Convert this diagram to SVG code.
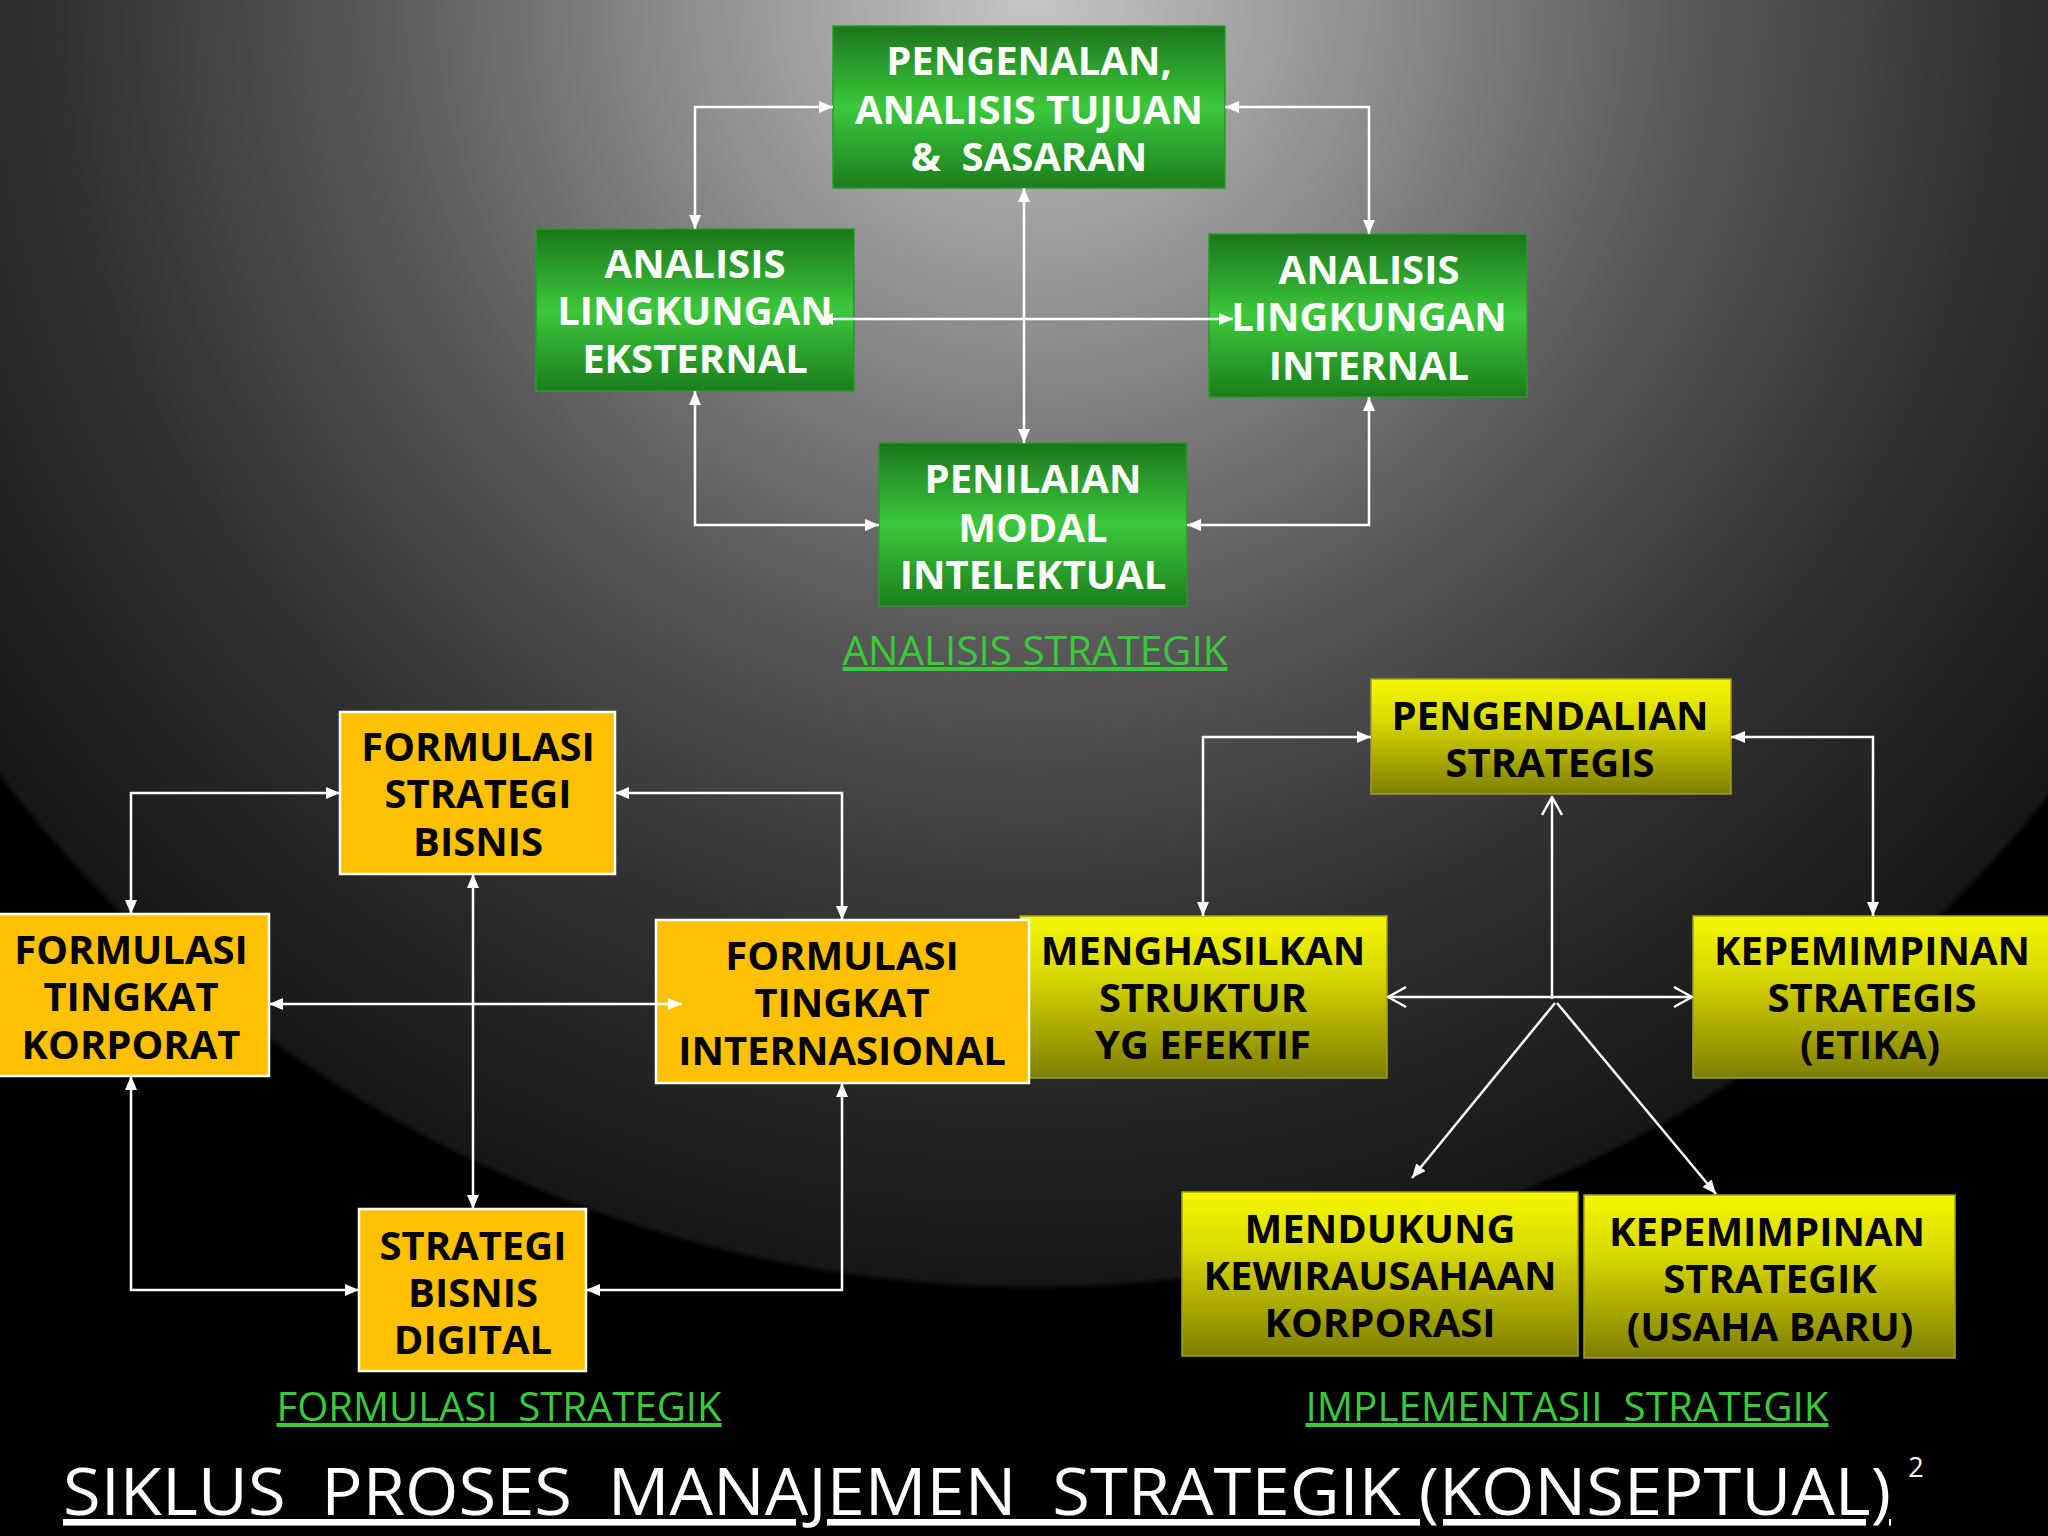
<svg xmlns="http://www.w3.org/2000/svg" width="2048" height="1536" viewBox="0 0 2048 1536">
<defs>
<radialGradient id="bg" gradientUnits="userSpaceOnUse" cx="1032" cy="-10" r="1300">
<stop offset="0" stop-color="#c6c6c6"/>
<stop offset="0.2" stop-color="#9c9c9c"/>
<stop offset="0.5" stop-color="#5a5a5a"/>
<stop offset="0.75" stop-color="#313131"/>
<stop offset="0.995" stop-color="#171717"/>
<stop offset="1" stop-color="#000"/>
</radialGradient>
<linearGradient id="gg" x1="0" y1="0" x2="0" y2="1">
<stop offset="0" stop-color="#1b761b"/>
<stop offset="0.5" stop-color="#3cc83c"/>
<stop offset="1" stop-color="#1b7e1b"/>
</linearGradient>
<linearGradient id="yg" x1="0" y1="0" x2="0" y2="1">
<stop offset="0" stop-color="#f6f600"/>
<stop offset="0.35" stop-color="#dada00"/>
<stop offset="1" stop-color="#7e7e00"/>
</linearGradient>
<marker id="af" viewBox="0 0 14 12" refX="14" refY="6" markerWidth="14" markerHeight="12" orient="auto-start-reverse" markerUnits="userSpaceOnUse"><path d="M0,0 L14,6 L0,12 z" fill="#fff"/></marker>
<marker id="ao" viewBox="0 0 20 24" refX="19" refY="12" markerWidth="20" markerHeight="24" orient="auto-start-reverse" markerUnits="userSpaceOnUse"><path d="M1,2 L19,12 L1,22" fill="none" stroke="#fff" stroke-width="2.5"/></marker>
</defs>
<style>
text{font-family:"Open Sans","Noto Sans","DejaVu Sans",sans-serif;white-space:pre}
.bt{font-size:40px;font-weight:bold;text-anchor:middle}
.w{fill:#fff}
.k{fill:#000}
.g{fill:url(#gg);stroke:#2a9a2a;stroke-width:1.5}
.o{fill:#ffc000;stroke:#fff;stroke-width:2.5}
.y{fill:url(#yg);stroke:#a0a020;stroke-width:1.5}
.c{fill:none;stroke:#fff;stroke-width:2.5}
.lab{font-size:40px;fill:#3cc83c;text-decoration:underline;text-anchor:middle}
</style>
<rect x="0" y="0" width="2048" height="1536" fill="#000"/>
<rect x="0" y="0" width="2048" height="1536" fill="url(#bg)"/>

<g id="n-pengenalan">
<rect class="g" x="833" y="26" width="392" height="162"/>
<text class="bt w" x="1029" y="75">PENGENALAN,</text>
<text class="bt w" x="1029" y="124">ANALISIS TUJUAN</text>
<text class="bt w" x="1029" y="171">&amp;  SASARAN</text>
</g>
<g id="n-eksternal">
<rect class="g" x="536" y="229" width="318" height="162"/>
<text class="bt w" x="695" y="278">ANALISIS</text>
<text class="bt w" x="695" y="325">LINGKUNGAN</text>
<text class="bt w" x="695" y="373">EKSTERNAL</text>
</g>
<g id="n-internal">
<rect class="g" x="1209" y="234" width="318" height="163"/>
<text class="bt w" x="1369" y="284">ANALISIS</text>
<text class="bt w" x="1369" y="331">LINGKUNGAN</text>
<text class="bt w" x="1369" y="380">INTERNAL</text>
</g>
<g id="n-penilaian">
<rect class="g" x="879" y="443" width="308" height="163"/>
<text class="bt w" x="1033" y="493">PENILAIAN</text>
<text class="bt w" x="1033" y="542">MODAL</text>
<text class="bt w" x="1033" y="589">INTELEKTUAL</text>
</g>

<g id="n-bisnis">
<rect class="o" x="340" y="712" width="275" height="162"/>
<text class="bt k" x="478" y="761">FORMULASI</text>
<text class="bt k" x="478" y="808">STRATEGI</text>
<text class="bt k" x="478" y="856">BISNIS</text>
</g>
<g id="n-korporat">
<rect class="o" x="-2" y="914" width="271" height="162"/>
<text class="bt k" x="131" y="964">FORMULASI</text>
<text class="bt k" x="131" y="1011">TINGKAT</text>
<text class="bt k" x="131" y="1059">KORPORAT</text>
</g>
<g id="n-struktur">
<rect class="y" x="1020" y="916" width="367" height="162"/>
<text class="bt k" x="1203" y="965">MENGHASILKAN</text>
<text class="bt k" x="1203" y="1012">STRUKTUR</text>
<text class="bt k" x="1203" y="1059">YG EFEKTIF</text>
</g>
<g id="n-internasional">
<rect class="o" x="656" y="920" width="373" height="163"/>
<text class="bt k" x="842" y="970">FORMULASI</text>
<text class="bt k" x="842" y="1017">TINGKAT</text>
<text class="bt k" x="842" y="1065">INTERNASIONAL</text>
</g>
<g id="n-digital">
<rect class="o" x="359" y="1209" width="227" height="162"/>
<text class="bt k" x="473" y="1260">STRATEGI</text>
<text class="bt k" x="473" y="1307">BISNIS</text>
<text class="bt k" x="473" y="1354">DIGITAL</text>
</g>

<g id="n-pengendalian">
<rect class="y" x="1371" y="679" width="360" height="115"/>
<text class="bt k" x="1550" y="730">PENGENDALIAN</text>
<text class="bt k" x="1550" y="777">STRATEGIS</text>
</g>
<g id="n-etika">
<rect class="y" x="1693" y="916" width="360" height="162"/>
<text class="bt k" x="1872" y="965">KEPEMIMPINAN</text>
<text class="bt k" x="1872" y="1012">STRATEGIS</text>
<text class="bt k" x="1870" y="1059">(ETIKA)</text>
</g>
<g id="n-mendukung">
<rect class="y" x="1182" y="1192" width="396" height="164"/>
<text class="bt k" x="1380" y="1243">MENDUKUNG</text>
<text class="bt k" x="1380" y="1290">KEWIRAUSAHAAN</text>
<text class="bt k" x="1380" y="1337">KORPORASI</text>
</g>
<g id="n-usahabaru">
<rect class="y" x="1584" y="1195" width="371" height="163"/>
<text class="bt k" x="1767" y="1246">KEPEMIMPINAN</text>
<text class="bt k" x="1770" y="1293">STRATEGIK</text>
<text class="bt k" x="1770" y="1341">(USAHA BARU)</text>
</g>

<g id="connectors">
<polyline class="c" points="695,229 695,107 833,107" marker-start="url(#af)" marker-end="url(#af)"/>
<polyline class="c" points="1225,107 1369,107 1369,234" marker-start="url(#af)" marker-end="url(#af)"/>
<polyline class="c" points="695,391 695,525 879,525" marker-start="url(#af)" marker-end="url(#af)"/>
<polyline class="c" points="1369,397 1369,525 1187,525" marker-start="url(#af)" marker-end="url(#af)"/>
<line class="c" x1="1024" y1="188" x2="1024" y2="443" marker-start="url(#af)" marker-end="url(#af)"/>
<line class="c" x1="819" y1="319" x2="1233" y2="319" marker-start="url(#af)" marker-end="url(#af)"/>

<polyline class="c" points="131,914 131,793 340,793" marker-start="url(#af)" marker-end="url(#af)"/>
<polyline class="c" points="615,793 842,793 842,920" marker-start="url(#af)" marker-end="url(#af)"/>
<polyline class="c" points="131,1076 131,1290 359,1290" marker-start="url(#af)" marker-end="url(#af)"/>
<polyline class="c" points="842,1083 842,1290 586,1290" marker-start="url(#af)" marker-end="url(#af)"/>
<line class="c" x1="473" y1="874" x2="473" y2="1209" marker-start="url(#af)" marker-end="url(#af)"/>
<line class="c" x1="269" y1="1004" x2="682" y2="1004" marker-start="url(#af)" marker-end="url(#af)"/>

<polyline class="c" points="1203,916 1203,737 1371,737" marker-start="url(#af)" marker-end="url(#af)"/>
<polyline class="c" points="1731,737 1873,737 1873,916" marker-start="url(#af)" marker-end="url(#af)"/>
<line class="c" x1="1552" y1="999" x2="1552" y2="797" marker-end="url(#ao)"/>
<line class="c" x1="1388" y1="997" x2="1692" y2="997" marker-start="url(#ao)" marker-end="url(#ao)"/>
<line class="c" x1="1555" y1="1003" x2="1412" y2="1178" marker-end="url(#af)"/>
<line class="c" x1="1557" y1="1003" x2="1716" y2="1194" marker-end="url(#af)"/>
</g>

<g id="labels">
<text class="lab" x="1035" y="665" textLength="385" lengthAdjust="spacingAndGlyphs">ANALISIS STRATEGIK</text>
<text class="lab" x="499" y="1421" textLength="445" lengthAdjust="spacingAndGlyphs">FORMULASI  STRATEGIK</text>
<text class="lab" x="1567" y="1421" textLength="523" lengthAdjust="spacingAndGlyphs">IMPLEMENTASII  STRATEGIK</text>
<text x="977" y="1515" font-size="66" fill="#fff" text-anchor="middle" text-decoration="underline" textLength="1828" lengthAdjust="spacingAndGlyphs">SIKLUS  PROSES  MANAJEMEN  STRATEGIK (KONSEPTUAL)</text>
<text x="1916" y="1477" font-size="27" fill="#fff" text-anchor="middle">2</text>
</g>
</svg>
